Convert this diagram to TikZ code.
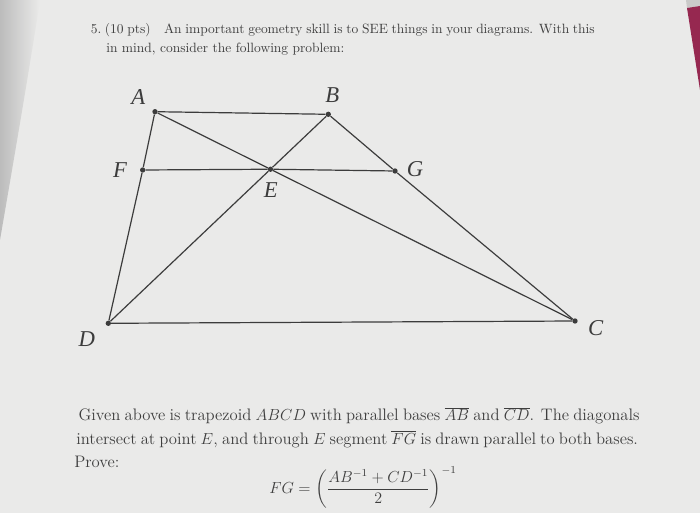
\documentclass[tikz,border=0pt]{standalone}
\usepackage{amsmath}
\usepackage{fontspec}
\usepackage{xcolor}
\usepackage{tikz}
\newfontfamily\geofont{Liberation Serif}
\definecolor{paper}{RGB}{234,234,233}
\definecolor{ink}{RGB}{60,60,60}
\definecolor{print}{RGB}{62,62,62}
\definecolor{fold}{RGB}{188,188,188}
\definecolor{cover}{RGB}{150,40,80}

\begin{document}
\begin{tikzpicture}[
  x=0.75pt, y=-0.75pt,
  vertex/.style={circle,fill=ink,inner sep=0pt,minimum size=4pt},
  vlabel/.style={text=ink,inner sep=0pt,font=\geofont\itshape\fontsize{17}{18}\selectfont},
  side/.style={draw=ink,line width=0.9pt},
  textline/.style={anchor=base west,inner sep=0pt,text=print}
]
  % paper, fold and the cover in the corner
  \useasboundingbox (0,0) rectangle (700,513);
  \fill[paper] (0,0) rectangle (700,513);
  \shade[left color=fold,right color=paper] (0,0) -- (40,0) .. controls (26,90) and (12,170) .. (0,240) -- cycle;
  \fill[fold!70!paper] (686,0) -- (700,0) -- (700,6) -- (687,8) -- cycle;
  \fill[cover] (687,8) -- (700,6) -- (700,90) -- cycle;

  % problem statement
  \node[textline] (top1) at (90.5,34) {\fontsize{10.1}{12}\selectfont\makebox[378pt][s]{5.\ (10 pts)\quad An important geometry skill is to SEE things in your diagrams. With this}};
  \node[textline] (top2) at (106,53) {\fontsize{10.1}{12}\selectfont in mind, consider the following problem:};

  % trapezoid
  \node[vertex] (A) at (155,111.7) {};
  \node[vertex] (B) at (328.3,114.3) {};
  \node[vertex] (C) at (575,321) {};
  \node[vertex] (D) at (108.3,323.3) {};
  \node[vertex] (F) at (142.7,170) {};
  \node[vertex] (G) at (395,171) {};
  \node[vertex] (E) at (intersection of A--C and B--D) {};

  \draw[side] (A) -- (B) -- (G) -- (C) -- (D) -- (F) -- (A);
  \draw[side] (A) -- (E) -- (C);
  \draw[side] (B) -- (E) -- (D);
  \draw[side] (F) -- (E) -- (G);

  \node[vlabel] (lA) at (138.3,96.7) {A};
  \node[vlabel] (lB) at (332.3,95) {B};
  \node[vlabel] (lC) at (595.7,328.3) {C};
  \node[vlabel] (lD) at (86.7,339.3) {D};
  \node[vlabel] (lE) at (270.7,190) {E};
  \node[vlabel] (lF) at (120,170) {F};
  \node[vlabel] (lG) at (415,169.3) {G};

  % what is to be proved
  \node[textline] (bot1) at (78.3,421) {\fontsize{12.5}{15}\selectfont\makebox[420.8pt][s]{Given above is trapezoid $ABCD$ with parallel bases $\overline{AB}$ and $\overline{CD}$. The diagonals}};
  \node[textline] (bot2) at (76,444) {\fontsize{12.5}{15}\selectfont\makebox[421.3pt][s]{intersect at point $E$, and through $E$ segment $\overline{FG}$ is drawn parallel to both bases.}};
  \node[textline] (bot3) at (74,467.7) {\fontsize{12.5}{15}\selectfont Prove:};
  \node[textline] (proof) at (269,493) {\fontsize{11.8}{14}\selectfont $FG=\left(\dfrac{AB^{-1}+CD^{-1}}{2}\right)^{-1}$};
\end{tikzpicture}
\end{document}
